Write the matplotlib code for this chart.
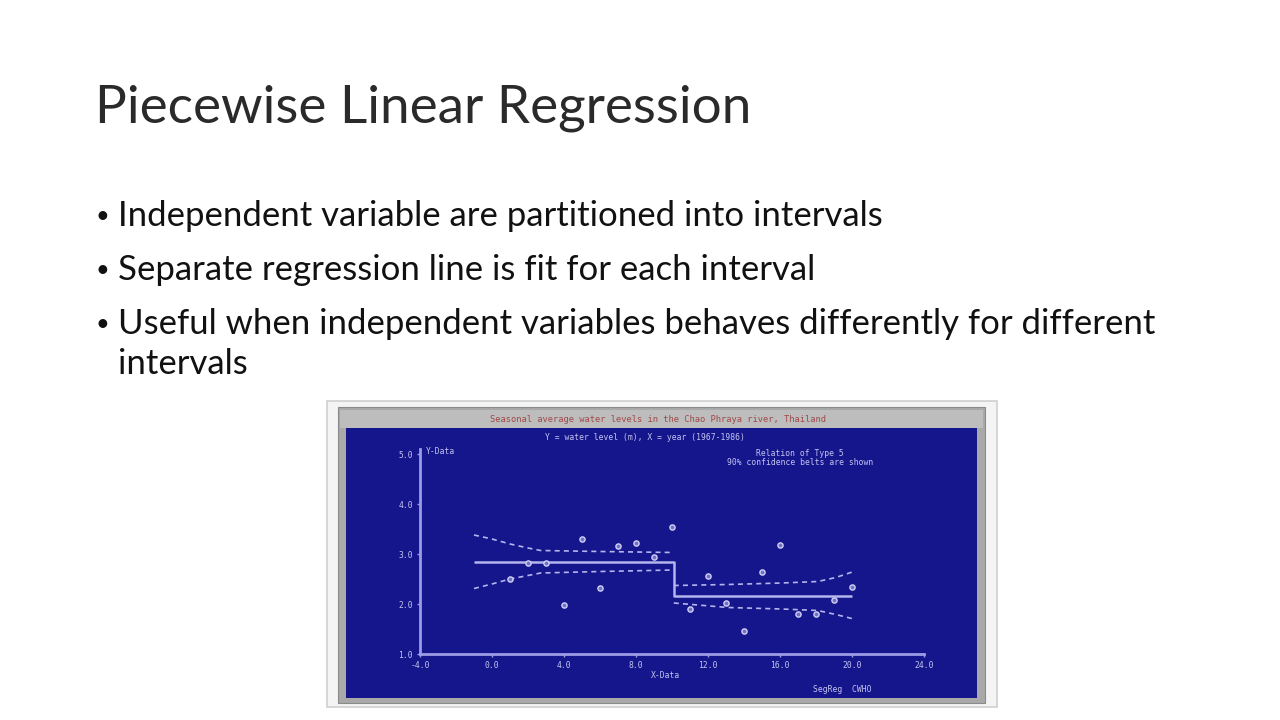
import matplotlib
matplotlib.use("Agg")
import matplotlib.pyplot as plt
from matplotlib.patches import Rectangle

# slide text
title = "Piecewise Linear Regression"
bullets = [
    "Independent variable are partitioned into intervals",
    "Separate regression line is fit for each interval",
    "Useful when independent variables behaves differently for different\nintervals",
]

# embedded SegReg screenshot
win_title = "Seasonal average water levels in the Chao Phraya river, Thailand"
sub_title = "Y = water level (m), X = year (1967-1986)"
note = "Relation of Type 5\n90% confidence belts are shown"

year = list(range(1, 21))
level = [2.50, 2.82, 2.82, 1.99, 3.31, 2.33, 3.17, 3.23, 2.95, 3.54,
         1.91, 2.57, 2.02, 1.47, 2.65, 3.18, 1.81, 1.80, 2.08, 2.35]

fit_x = [-1.0, 10.1, 10.1, 20.0]
fit_y = [2.85, 2.85, 2.17, 2.17]

band1_x = [-1.0, 0.0, 1.0, 2.0, 2.7, 6.0, 10.1]
band1_hi = [3.38, 3.30, 3.20, 3.12, 3.07, 3.05, 3.03]
band1_lo = [2.31, 2.40, 2.50, 2.57, 2.62, 2.65, 2.68]

band2_x = [10.1, 13.1, 16.1, 18.1, 19.1, 20.1]
band2_hi = [2.37, 2.39, 2.42, 2.45, 2.53, 2.65]
band2_lo = [2.02, 1.93, 1.90, 1.87, 1.79, 1.70]

xticks = [-4, 0, 4, 8, 12, 16, 20, 24]
yticks = [1, 2, 3, 4, 5]

fig = plt.figure(figsize=(12.8, 7.2), dpi=100)
fig.patch.set_facecolor("white")

# pixel-space layer for the slide
bg = fig.add_axes([0, 0, 1, 1])
bg.set_xlim(0, 1280)
bg.set_ylim(720, 0)
bg.axis("off")

bg.text(95, 122, title, fontsize=38.2, family="Lato", fontweight="normal",
        color="#2a2a2a", va="baseline", ha="left")
baselines = [226, 280, 334]
for base, b in zip(baselines, bullets):
    bg.text(95, base - 3, "\u2022", fontsize=17, family="Lato",
            color="#111111", va="baseline", ha="left")
    for k, part in enumerate(b.split("\n")):
        bg.text(118, base + 40 * k, part, fontsize=25, family="Lato",
                color="#111111", va="baseline", ha="left")

# screenshot frame
blue = "#16168c"
bg.add_patch(Rectangle((327, 401), 670, 306, facecolor="#f4f4f4",
                       edgecolor="#cfcfcf", lw=1.2))
bg.add_patch(Rectangle((338, 407), 647, 296, facecolor="#a9a9a9",
                       edgecolor="#8a8a8a", lw=0.8))
bg.add_patch(Rectangle((340, 410), 643, 18, facecolor="#bdbdbd", lw=0))
bg.add_patch(Rectangle((346, 428), 631, 270, facecolor=blue, lw=0))
bg.text(658, 420, win_title, fontsize=6.3, family="DejaVu Sans Mono",
        color="#a04848", ha="center", va="center")

light = "#c4c4f2"
mono = dict(fontsize=5.8, family="DejaVu Sans Mono", color=light)
bg.text(645, 437, sub_title, ha="center", va="center", **mono)
bg.text(800, 458, note, ha="center", va="center", linespacing=0.9, **mono)
bg.text(426, 452, "Y-Data", ha="left", va="center", **mono)
bg.text(666, 675, "X-Data", ha="center", va="center", **mono)
bg.text(842, 690, "SegReg  CWHO", ha="center", va="center", **mono)

# data axes inside the blue screen
ax = fig.add_axes([420 / 1280, 1 - 654 / 720, 504 / 1280, 200 / 720])
ax.patch.set_alpha(0)
ax.set_xlim(-4, 24)
ax.set_ylim(1, 5)
for s in ["top", "right"]:
    ax.spines[s].set_visible(False)
for s in ["left", "bottom"]:
    ax.spines[s].set_color("#9c9ce6")
    ax.spines[s].set_linewidth(2)
ax.spines["left"].set_bounds(1, 5.1)
ax.set_xticks(xticks)
ax.set_xticklabels([f"{v:.1f}" for v in xticks])
ax.set_yticks(yticks)
ax.set_yticklabels([f"{v:.1f}" for v in yticks])
ax.tick_params(colors="#9c9ce6", labelcolor=light, labelsize=5.8,
               length=2, width=1, pad=3)
for lab in ax.get_xticklabels() + ax.get_yticklabels():
    lab.set_family("DejaVu Sans Mono")

line_c = "#b4b4ee"
ax.plot(fit_x, fit_y, color=line_c, lw=1.8, solid_capstyle="butt")
for bx, hi, lo in [(band1_x, band1_hi, band1_lo), (band2_x, band2_hi, band2_lo)]:
    ax.plot(bx, hi, color=line_c, lw=1.2, ls=(0, (3, 2.5)))
    ax.plot(bx, lo, color=line_c, lw=1.2, ls=(0, (3, 2.5)))
ax.scatter(year, level, s=14, facecolor="#7070c8", edgecolor="#d0d0f6",
           lw=1, zorder=3)

fig.savefig("out.png", dpi=100, facecolor="white")
